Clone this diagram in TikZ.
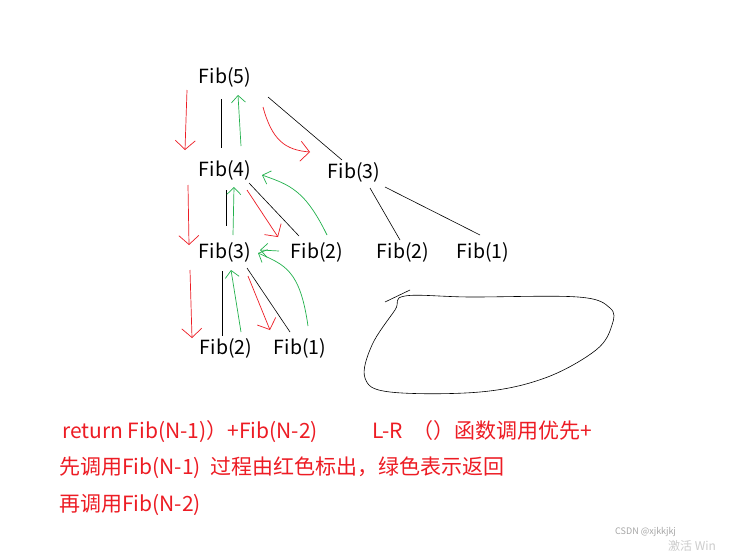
\documentclass[tikz,border=0pt]{standalone}
\usepackage{fontspec}
\setmainfont{Noto Sans CJK SC}
\usetikzlibrary{arrows.meta}
\definecolor{hred}{RGB}{237,28,36}
\definecolor{hgreen}{RGB}{34,177,76}
\begin{document}
\begin{tikzpicture}[x=1pt,y=-1pt,
  fib/.style={inner sep=0pt,font=\fontsize{19.5}{21}\selectfont},
  edge/.style={black,line width=0.6pt},
  red arr/.style={hred,line width=0.7pt,-{Straight Barb[length=9pt,width=20pt]}},
  green arr/.style={hgreen,line width=0.7pt,-{Straight Barb[length=7pt,width=14pt]}},
  note/.style={anchor=west,inner sep=0pt,text=hred,font=\fontsize{21}{24}\selectfont}]
\useasboundingbox[fill=white] (0,0) rectangle (745,554);
\node[fib] (f5) at (225,77) {Fib(5)};
\node[fib] (f4) at (225,170) {Fib(4)};
\node[fib] (f3r) at (354,172) {Fib(3)};
\node[fib] (f3) at (225,252) {Fib(3)};
\node[fib] (f2a) at (317,252) {Fib(2)};
\node[fib] (f2b) at (403,252) {Fib(2)};
\node[fib] (f1a) at (483,252) {Fib(1)};
\node[fib] (f2c) at (226,348) {Fib(2)};
\node[fib] (f1b) at (300,348) {Fib(1)};
% tree edges
\draw[edge] (221,99) -- (221,148);
\draw[edge] (268,97) -- (342,160);
\draw[edge] (226,190) -- (226,226);
\draw[edge] (249,183) -- (299,236);
\draw[edge] (370,188) -- (400,240);
\draw[edge] (385,187) -- (480,235);
\draw[edge] (222,271) -- (222,336);
\draw[edge] (247,268) -- (290,332);
% blob
\draw[edge] (410,290) -- (385,302);
\draw[edge] plot[smooth cycle,tension=0.6] coordinates {(405,296) (470,297) (578,297) (610,308) (612,325) (596,350) (545,378) (480,392) (390,392) (365,378) (372,345) (395,310)};
% red arrows
\draw[red arr] (187,90) -- (185,150);
\draw[red arr] (263,107) .. controls (272,140) and (285,150) .. (310,152);
\draw[red arr] (188,185) -- (189,245);
\draw[red arr] (247,190) -- (278,237);
\draw[red arr] (190,270) -- (192,338);
\draw[red arr] (248,276) -- (270,330);
% green arrows
\draw[green arr] (241,146) -- (238,95);
\draw[green arr] (327,235) .. controls (305,190) and (290,185) .. (262,175);
\draw[green arr] (233,235) -- (234,187);
\draw[green arr] (279,251) -- (260,250);
\draw[green arr] (241,332) -- (231,270);
\draw[green arr] (308,326) .. controls (300,270) and (285,265) .. (258,253);
% notes
\node[note] (n1) at (62,432) {return Fib(N-1)）+Fib(N-2)\hspace{2.6em}L-R\ \ （）函数调用优先+};
\node[note] (n2) at (59,468) {先调用Fib(N-1)\ \ 过程由红色标出，绿色表示返回};
\node[note] (n3) at (59,505) {再调用Fib(N-2)};
\node[anchor=west,inner sep=0pt,text=gray!70,font=\fontsize{9}{10}\selectfont] (wm) at (615,532) {CSDN @xjkkjkj};
\node[anchor=west,inner sep=0pt,text=gray!40,font=\fontsize{12}{13}\selectfont] (wm2) at (668,546) {激活 Win};
\end{tikzpicture}
\end{document}
